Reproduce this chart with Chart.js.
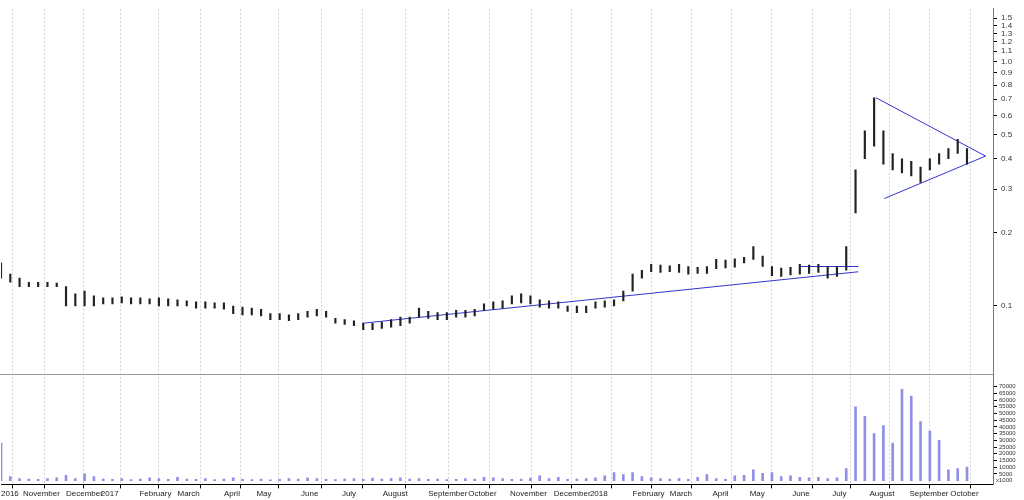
<!DOCTYPE html>
<html>
<head>
<meta charset="utf-8">
<script src="https://cdn.jsdelivr.net/npm/chart.js@4"></script>
<style>
  html, body { margin: 0; padding: 0; background: #fff; }
  #wrap { width: 1024px; height: 500px; }
</style>
</head>
<body>
<div id="wrap"><canvas id="myChart"></canvas></div>
<script>
// weekly bars, x = week index from mid Oct 2016
const priceLow = [0.13,0.125,0.12,0.12,0.12,0.12,0.12,0.1,0.1,0.1,0.1,0.102,0.102,0.103,0.102,0.102,0.102,0.1,0.1,0.1,0.1,0.098,0.098,0.098,0.097,0.093,0.092,0.092,0.091,0.088,0.088,0.087,0.088,0.09,0.091,0.09,0.085,0.084,0.083,0.08,0.08,0.081,0.082,0.083,0.085,0.09,0.089,0.088,0.088,0.09,0.09,0.091,0.096,0.097,0.098,0.102,0.103,0.102,0.099,0.098,0.098,0.095,0.094,0.094,0.098,0.099,0.1,0.105,0.115,0.13,0.138,0.137,0.138,0.137,0.135,0.136,0.136,0.142,0.143,0.144,0.15,0.155,0.145,0.133,0.132,0.134,0.135,0.136,0.137,0.13,0.132,0.14,0.24,0.4,0.45,0.38,0.36,0.35,0.34,0.32,0.36,0.38,0.4,0.42,0.38];
const priceHigh = [0.15,0.135,0.13,0.125,0.125,0.125,0.124,0.12,0.112,0.115,0.11,0.108,0.108,0.109,0.108,0.108,0.107,0.108,0.107,0.106,0.105,0.104,0.104,0.103,0.103,0.1,0.099,0.098,0.097,0.093,0.093,0.092,0.093,0.095,0.097,0.095,0.089,0.088,0.087,0.085,0.085,0.086,0.088,0.09,0.09,0.098,0.095,0.094,0.094,0.096,0.096,0.097,0.102,0.104,0.105,0.11,0.112,0.11,0.106,0.105,0.104,0.1,0.1,0.1,0.104,0.105,0.106,0.115,0.135,0.14,0.148,0.147,0.146,0.148,0.145,0.144,0.145,0.155,0.154,0.156,0.158,0.175,0.16,0.145,0.143,0.144,0.148,0.147,0.148,0.145,0.145,0.175,0.36,0.52,0.71,0.52,0.42,0.4,0.39,0.37,0.4,0.42,0.44,0.48,0.44];
const volume = [28000,3000,1500,1200,1000,1500,2000,4000,1500,5000,3000,1200,1000,1500,800,1200,2000,1500,1000,2500,1200,1000,1500,800,1200,2000,1000,800,1200,600,1000,1500,1200,2000,1500,1000,800,1200,1500,1000,1800,1200,1500,2000,1200,1500,1000,1200,800,1000,1500,1200,2500,2000,1500,1000,1200,1800,3500,1500,2500,1000,1200,1500,2000,3500,6000,4500,6000,3000,2000,1500,1200,1500,1000,2500,4500,1500,1000,3500,4000,8000,5500,6000,3000,3500,2500,2000,2500,1500,2000,9000,55000,48000,35000,41000,28000,68000,63000,44000,37000,30000,8000,9000,10000];
const monthPos = [0,2.37,7.0,10.75,14.9,19.0,24.0,27.5,32.3,36.7,41.1,46.0,50.3,54.8,59.5,63.4,68.0,72.0,76.6,80.6,85.2,89.5,93.5,97.8,102.2];
const monthNames = ['2016','November','December','2017','February','March','April','May','June','July','August','September','October','November','December','2018','February','March','April','May','June','July','August','September','October'];
const priceTicks = [0.1,0.2,0.3,0.4,0.5,0.6,0.7,0.8,0.9,1.0,1.1,1.2,1.3,1.4,1.5];
const volTicks = [5000,10000,15000,20000,25000,30000,35000,40000,45000,50000,55000,60000,65000,70000];
const supportLine = [[38.9,0.085],[92.3,0.138]];
const resistLine = [[86,0.145],[92.3,0.145]];
const triUpper = [[94.2,0.71],[106,0.41]];
const triLower = [[95.1,0.275],[106,0.41]];

const ohlc = priceLow.map((lo, i) => ({ x: i, y: [lo, priceHigh[i]] }));
const vol = volume.map((v, i) => ({ x: i, y: v }));
const pts = a => a.map(p => ({ x: p[0], y: p[1] }));
const lineDs = a => ({ type: 'line', data: pts(a), yAxisID: 'y', borderColor: '#3333cc', borderWidth: 1, pointRadius: 0, fill: false });
const font = { size: 8, family: 'Arial, "Liberation Sans"' };

new Chart(document.getElementById('myChart'), {
  type: 'bar',
  data: {
    datasets: [
      { data: ohlc, yAxisID: 'y', backgroundColor: '#222', barThickness: 1.5, grouped: false },
      { data: vol, yAxisID: 'v', backgroundColor: '#8f8fe6', barThickness: 2, grouped: false },
      lineDs(supportLine), lineDs(resistLine), lineDs(triUpper), lineDs(triLower)
    ]
  },
  options: {
    responsive: true,
    maintainAspectRatio: false,
    animation: false,
    plugins: { legend: { display: false }, tooltip: { enabled: false } },
    layout: { padding: { top: -7 } },
    scales: {
      x: {
        type: 'linear', min: 0, max: 106.8, offset: false,
        afterBuildTicks: ax => { ax.ticks = monthPos.map(v => ({ value: v })); },
        ticks: { autoSkip: false, maxRotation: 0, align: 'start', padding: 1, font, color: '#222',
          callback: (v, i) => monthNames[i] },
        grid: { color: '#d4d4d4', tickLength: 4, tickColor: '#000' },
        border: { color: '#000', dash: [2, 2] }
      },
      y: {
        type: 'logarithmic', position: 'right', stack: 'p', stackWeight: 3.45,
        min: 0.051, max: 1.64,
        afterBuildTicks: ax => { ax.ticks = priceTicks.map(v => ({ value: v })); },
        afterFit: ax => { ax.width = 31; },
        ticks: { font, color: '#333', padding: 4, callback: v => v.toFixed(1) },
        grid: { drawOnChartArea: false, tickLength: 4, tickColor: '#000' },
        border: { color: '#777' }
      },
      v: {
        type: 'linear', position: 'right', stack: 'p', stackWeight: 1, offset: true,
        min: 0, max: 74000,
        afterBuildTicks: ax => { ax.ticks = volTicks.map(v => ({ value: v })); },
        afterFit: ax => { ax.width = 31; },
        ticks: { autoSkip: false, font: { size: 6, family: font.family }, color: '#333', padding: 2,
          callback: v => String(v) },
        grid: { drawOnChartArea: false, tickLength: 4, tickColor: '#000' },
        border: { color: '#777' }
      }
    }
  },
  plugins: [{
    id: 'sep',
    afterDraw(chart) {
      const c = chart.ctx, v = chart.scales.v;
      c.save();
      c.strokeStyle = '#999';
      c.beginPath(); c.moveTo(0, v.top - 3); c.lineTo(chart.chartArea.right, v.top - 3); c.stroke();
      c.fillStyle = '#333'; c.font = '6px Arial';
      c.fillText('x1000', v.left + 3, v.bottom - 2);
      c.restore();
    }
  }]
});
</script>
</body>
</html>
